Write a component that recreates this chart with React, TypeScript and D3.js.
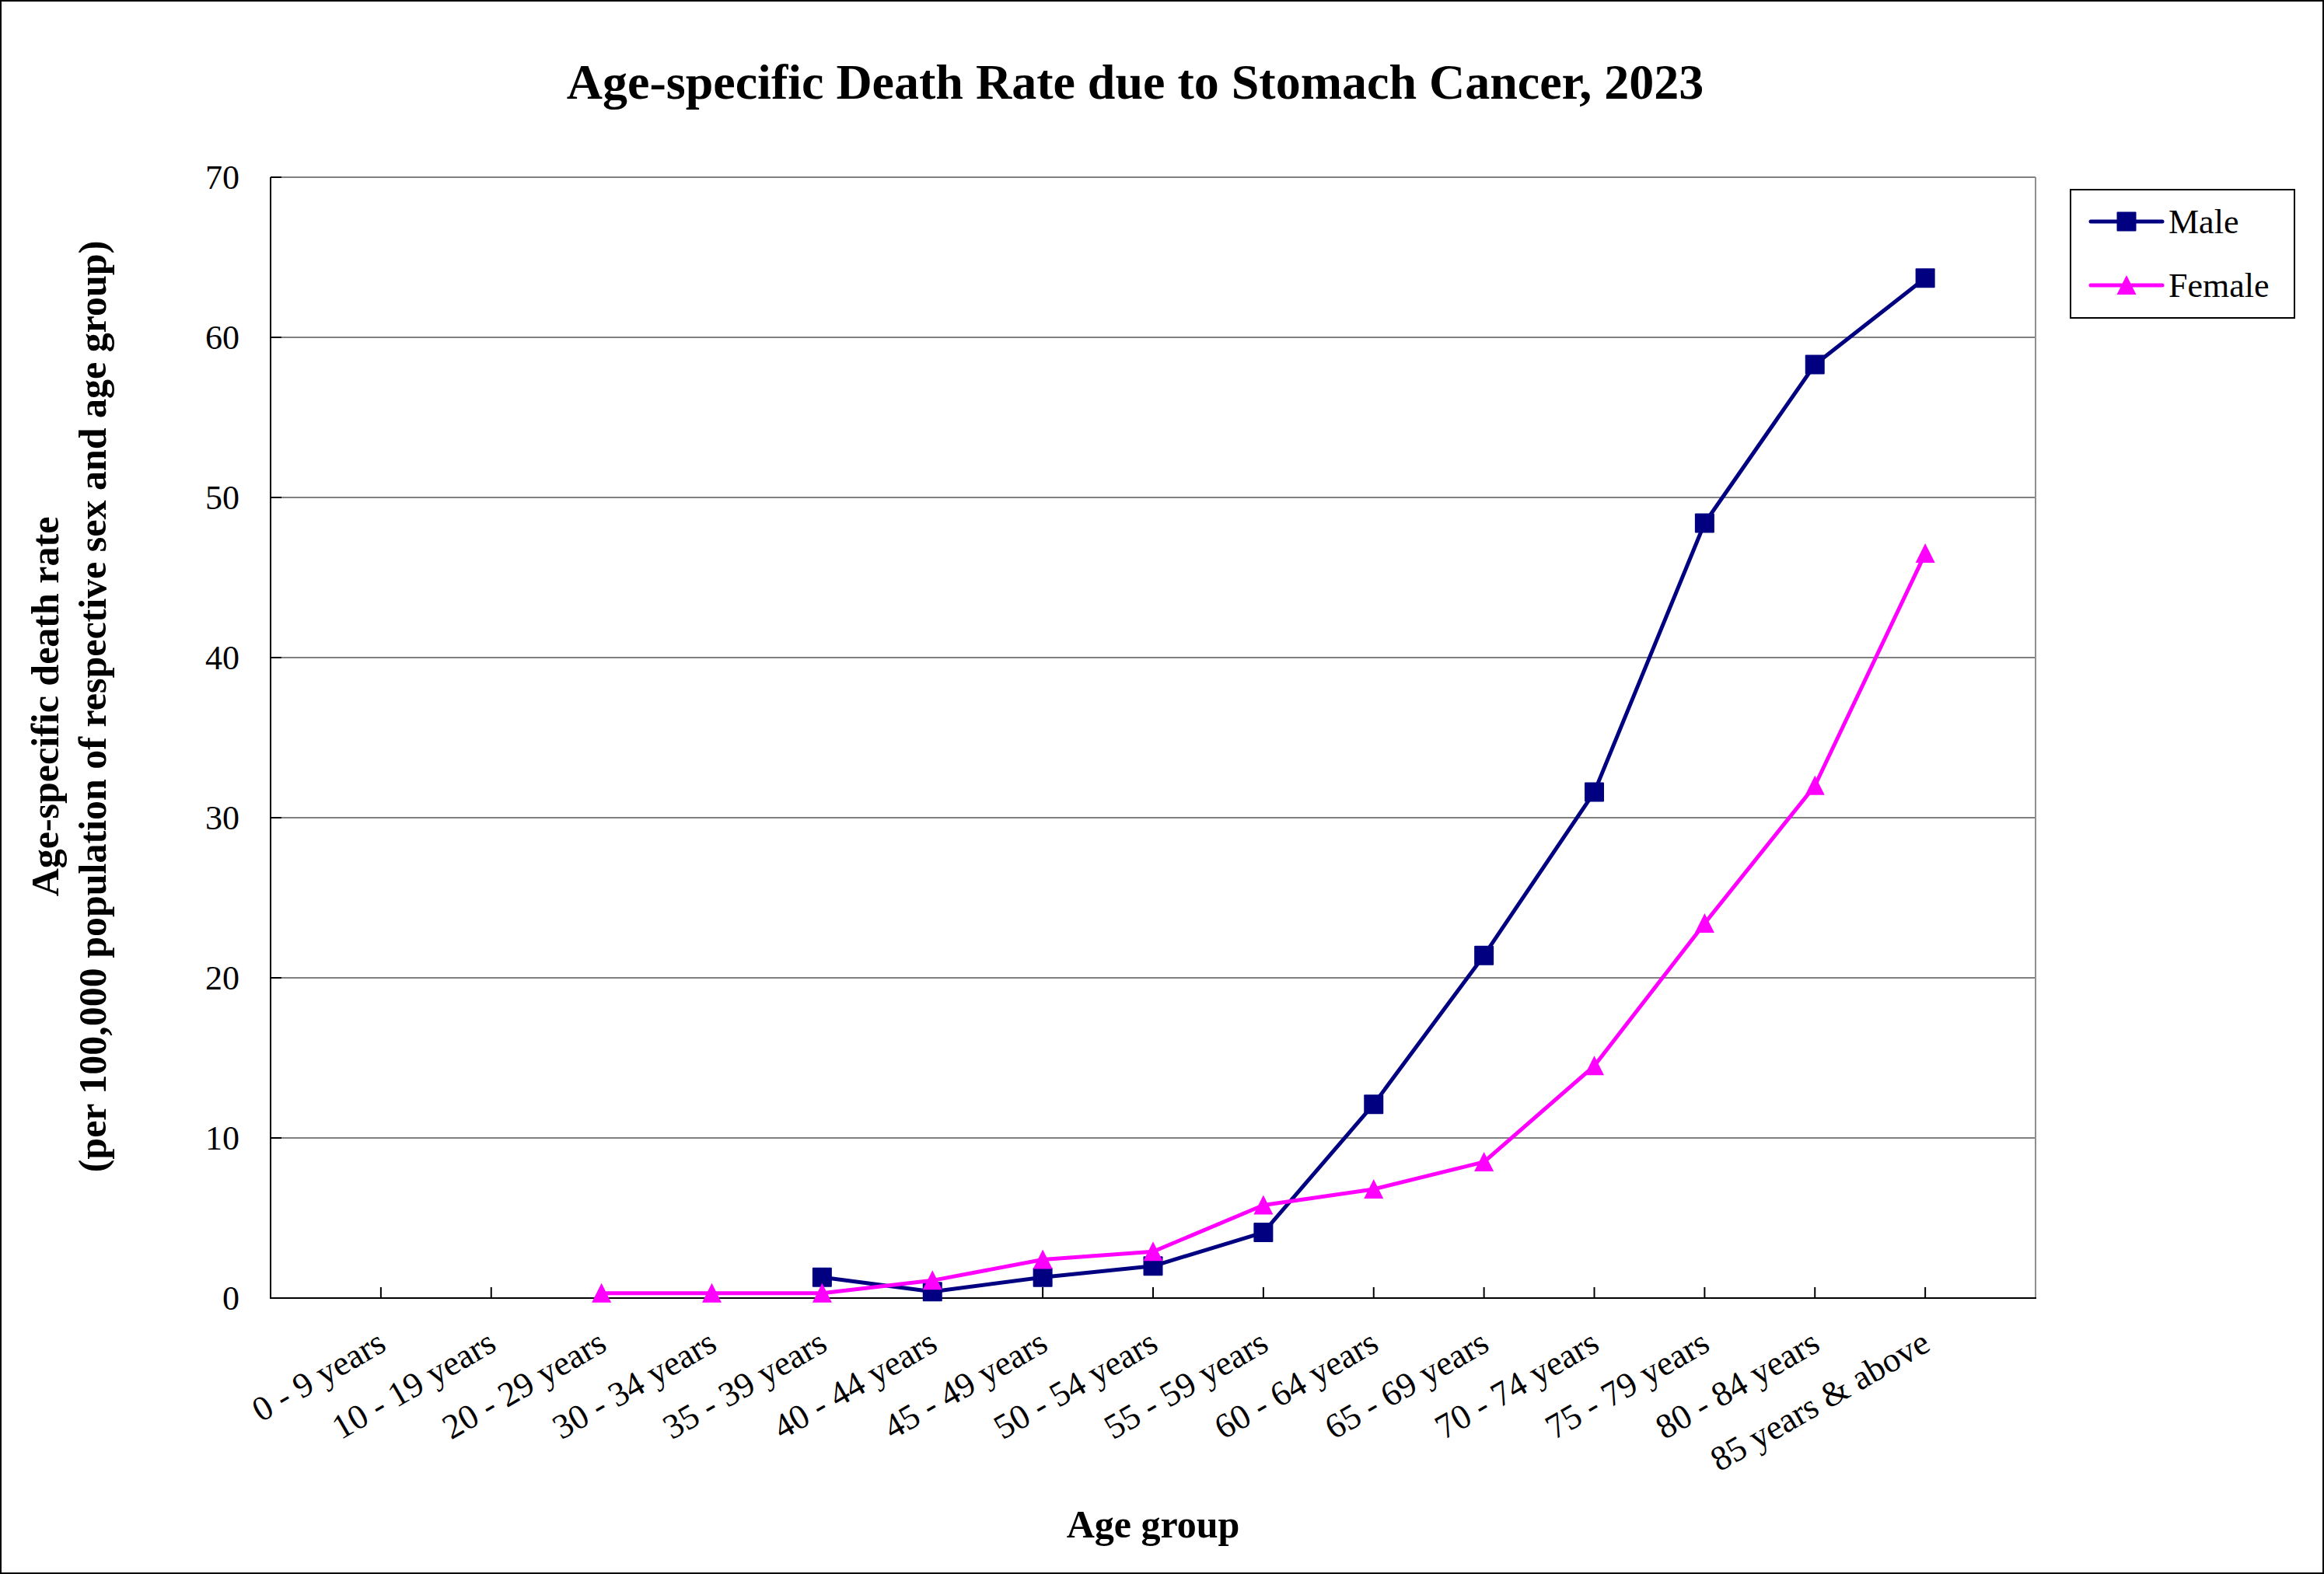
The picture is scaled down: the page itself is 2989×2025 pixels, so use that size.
import * as d3 from 'd3'

const categories = [
  '0 - 9 years', '10 - 19 years', '20 - 29 years', '30 - 34 years', '35 - 39 years',
  '40 - 44 years', '45 - 49 years', '50 - 54 years', '55 - 59 years', '60 - 64 years',
  '65 - 69 years', '70 - 74 years', '75 - 79 years', '80 - 84 years', '85 years & above',
]
const maleRates: (number | null)[] = [null, null, null, null, 1.3, 0.4, 1.3, 2.0, 4.1, 12.1, 21.4, 31.6, 48.4, 58.3, 63.7]
const femaleRates: (number | null)[] = [null, null, 0.3, 0.3, 0.3, 1.1, 2.4, 2.9, 5.8, 6.8, 8.5, 14.5, 23.4, 32.0, 46.5]
const yTicks = [0, 10, 20, 30, 40, 50, 60, 70]
const seriesNames = ['Male', 'Female']

const W = 2989
const H = 2025
const FONT = '"Liberation Serif", "Times New Roman", serif'
const MALE = '#000080'
const FEMALE = '#FF00FF'

const plot = { left: 348, right: 2618, top: 228, bottom: 1670 }

export default function App() {
  const x = d3.scalePoint<string>().domain(categories).range([plot.left, plot.right]).padding(1)
  const y = d3.scaleLinear().domain([0, 70]).range([plot.bottom, plot.top])

  const line = d3.line<[string, number | null]>()
    .defined(d => d[1] != null)
    .x(d => x(d[0])!)
    .y(d => y(d[1] as number))

  const maleData = categories.map((c, i) => [c, maleRates[i]] as [string, number | null])
  const femaleData = categories.map((c, i) => [c, femaleRates[i]] as [string, number | null])

  const square = (cx: number, cy: number, key: string) => (
    <rect key={key} x={cx - 12.5} y={cy - 12.5} width={25} height={25} fill={MALE} rx={1} />
  )
  const triangle = (cx: number, cy: number, key: string) => (
    <path key={key} d={`M${cx},${cy - 13} L${cx + 12.5},${cy + 12} L${cx - 12.5},${cy + 12} Z`} fill={FEMALE} />
  )

  return (
    <svg width={W} height={H} style={{ position: 'absolute', left: 0, top: 0, background: '#fff' }} fontFamily={FONT}>
      <rect x={1} y={1} width={W - 2} height={H - 2} fill="#fff" stroke="#000" strokeWidth={2} />

      <text x={1460} y={127} textAnchor="middle" fontSize={64} fontWeight="bold">
        Age-specific Death Rate due to Stomach Cancer, 2023
      </text>

      {/* gridlines */}
      {yTicks.filter(t => t > 0).map(t => (
        <line key={t} x1={plot.left} x2={plot.right} y1={y(t)} y2={y(t)} stroke="#808080" strokeWidth={2} />
      ))}
      <line x1={plot.right} x2={plot.right} y1={plot.top} y2={plot.bottom} stroke="#909090" strokeWidth={2} />

      {/* axes */}
      <line x1={plot.left} x2={plot.left} y1={plot.top} y2={plot.bottom + 1} stroke="#000" strokeWidth={2} />
      <line x1={plot.left} x2={plot.right + 1} y1={plot.bottom} y2={plot.bottom} stroke="#000" strokeWidth={2} />
      {yTicks.map(t => (
        <g key={t}>
          <line x1={plot.left} x2={plot.left + 14} y1={y(t)} y2={y(t)} stroke="#000" strokeWidth={2} />
          <text x={308} y={y(t)} dy="0.35em" textAnchor="end" fontSize={44}>{t}</text>
        </g>
      ))}
      {categories.map(c => (
        <g key={c}>
          <line x1={x(c)} x2={x(c)} y1={plot.bottom} y2={plot.bottom - 14} stroke="#000" strokeWidth={2} />
          <text
            transform={`translate(${x(c)! + 9},${plot.bottom + 66}) rotate(-30)`}
            textAnchor="end" fontSize={45}
          >{c}</text>
        </g>
      ))}

      {/* series */}
      <path d={line(maleData) ?? ''} fill="none" stroke={MALE} strokeWidth={5} strokeLinejoin="round" />
      {maleData.filter(d => d[1] != null).map(d => square(x(d[0])!, y(d[1] as number), 'm' + d[0]))}
      <path d={line(femaleData) ?? ''} fill="none" stroke={FEMALE} strokeWidth={5} strokeLinejoin="round" />
      {femaleData.filter(d => d[1] != null).map(d => triangle(x(d[0])!, y(d[1] as number), 'f' + d[0]))}

      {/* axis titles */}
      <text x={(plot.left + plot.right) / 2} y={1978} textAnchor="middle" fontSize={50} fontWeight="bold">Age group</text>
      <g transform="translate(57,909) rotate(-90)">
        <text x={0} y={0} dy="0.35em" textAnchor="middle" fontSize={50} fontWeight="bold">Age-specific death rate</text>
      </g>
      <g transform="translate(118,909) rotate(-90)">
        <text x={0} y={0} dy="0.35em" textAnchor="middle" fontSize={50} fontWeight="bold">
          (per 100,000 population of respective sex and age group)
        </text>
      </g>

      {/* legend */}
      <rect x={2663} y={244} width={288} height={165} fill="#fff" stroke="#000" strokeWidth={2} />
      {seriesNames.map((name, i) => {
        const ly = 285 + i * 82
        const color = i === 0 ? MALE : FEMALE
        return (
          <g key={name}>
            <line x1={2689} x2={2781} y1={ly} y2={ly} stroke={color} strokeWidth={5} strokeLinecap="round" />
            {i === 0 ? square(2735, ly, 'lm') : triangle(2735, ly, 'lf')}
            <text x={2789} y={ly + 15} fontSize={44}>{name}</text>
          </g>
        )
      })}
    </svg>
  )
}
